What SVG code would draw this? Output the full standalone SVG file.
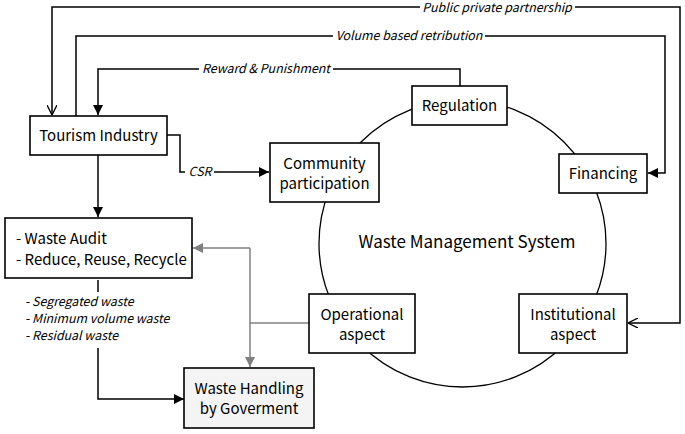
<svg xmlns="http://www.w3.org/2000/svg" width="685" height="434" viewBox="0 0 685 434">
<style>
.box{fill:#fff;stroke:#000;stroke-width:1.6}
.gbox{fill:#f4f4f4;stroke:#000;stroke-width:1.6}
.t{font-family:"Noto Sans CJK KR","Noto Sans",sans-serif;font-size:15px;fill:#000;text-anchor:middle}
.l{font-family:"Noto Sans CJK KR","Noto Sans",sans-serif;font-size:12.4px;font-style:italic;fill:#000}
.c{fill:none;stroke:#000;stroke-width:1.5}
.g{fill:none;stroke:#808080;stroke-width:1.5}
</style>
<defs>
<marker id="af" viewBox="0 0 10 10" refX="10" refY="5" markerWidth="10" markerHeight="10" markerUnits="userSpaceOnUse" orient="auto"><path d="M0,0 L10,5 L0,10 z" fill="#000"/></marker>
<marker id="ao" viewBox="0 0 10 10" refX="10" refY="5" markerWidth="10" markerHeight="10" markerUnits="userSpaceOnUse" orient="auto"><path d="M0,0 L10,5 L0,10" fill="none" stroke="#000" stroke-width="1.3"/></marker>
<marker id="ag" viewBox="0 0 10 10" refX="10" refY="5" markerWidth="10" markerHeight="10" markerUnits="userSpaceOnUse" orient="auto"><path d="M0,0 L10,5 L0,10 z" fill="#808080"/></marker>
</defs>
<circle cx="462.5" cy="243.5" r="143.5" fill="none" stroke="#000" stroke-width="1.3"/>
<text class="t" x="467" y="248" style="font-size:17px">Waste Management System</text>
<g id="connectors">
<path class="c" d="M420,7 H52 V115" marker-end="url(#ao)"/>
<path class="c" d="M575,7 H680 V323 H628" marker-end="url(#ao)"/>
<path class="c" d="M333,36 H76 V116"/>
<path class="c" d="M485,36 H665 V173 H648" marker-end="url(#af)"/>
<path class="c" d="M199,69 H98 V115" marker-end="url(#af)"/>
<path class="c" d="M333,69 H460 V86"/>
<path class="c" d="M167,135 H180 V172 H185"/>
<path class="c" d="M214,172 H269" marker-end="url(#af)"/>
<path class="c" d="M98,155 V217" marker-end="url(#af)"/>
<path class="c" d="M98,280 V292"/>
<path class="c" d="M98,348 V399 H184" marker-end="url(#af)"/>
<path class="g" d="M309,323 H250"/>
<path class="g" d="M250,248 H193" marker-end="url(#ag)"/>
<path class="g" d="M250,248 V367" marker-end="url(#ag)"/>
<text class="l" x="497" y="12" text-anchor="middle">Public private partnership</text>
<text class="l" x="409" y="40" text-anchor="middle">Volume based retribution</text>
<text class="l" x="266" y="73" text-anchor="middle">Reward &amp; Punishment</text>
<text class="l" x="200" y="176" text-anchor="middle">CSR</text>
</g>
<g id="tourism"><rect class="box" x="30" y="116" width="137" height="39"/><text class="t" x="98.5" y="141">Tourism Industry</text></g>
<g id="regulation"><rect class="box" x="412" y="86" width="95" height="39"/><text class="t" x="459.5" y="111">Regulation</text></g>
<g id="financing"><rect class="box" x="559" y="154" width="88" height="39"/><text class="t" x="603" y="179">Financing</text></g>
<g id="community"><rect class="box" x="270" y="143" width="109" height="59"/><text class="t" x="324.5" y="169">Community</text><text class="t" x="324.5" y="189">participation</text></g>
<g id="operational"><rect class="box" x="309" y="294" width="106" height="59"/><text class="t" x="362" y="320">Operational</text><text class="t" x="362" y="340">aspect</text></g>
<g id="institutional"><rect class="box" x="519" y="294" width="108" height="59"/><text class="t" x="573" y="320">Institutional</text><text class="t" x="573" y="340">aspect</text></g>
<g id="audit"><rect class="box" x="5" y="218" width="187" height="60"/><text class="t" x="16" y="244" style="text-anchor:start">- Waste Audit</text><text class="t" x="16" y="265" style="text-anchor:start">- Reduce, Reuse, Recycle</text></g>
<g id="waste-labels"><text class="l" x="25" y="306">- Segregated waste</text><text class="l" x="25" y="323">- Minimum volume waste</text><text class="l" x="25" y="340">- Residual waste</text></g>
<g id="handling"><rect class="gbox" x="184" y="368" width="130" height="60"/><text class="t" x="249" y="394">Waste Handling</text><text class="t" x="249" y="414">by Goverment</text></g>
</svg>
